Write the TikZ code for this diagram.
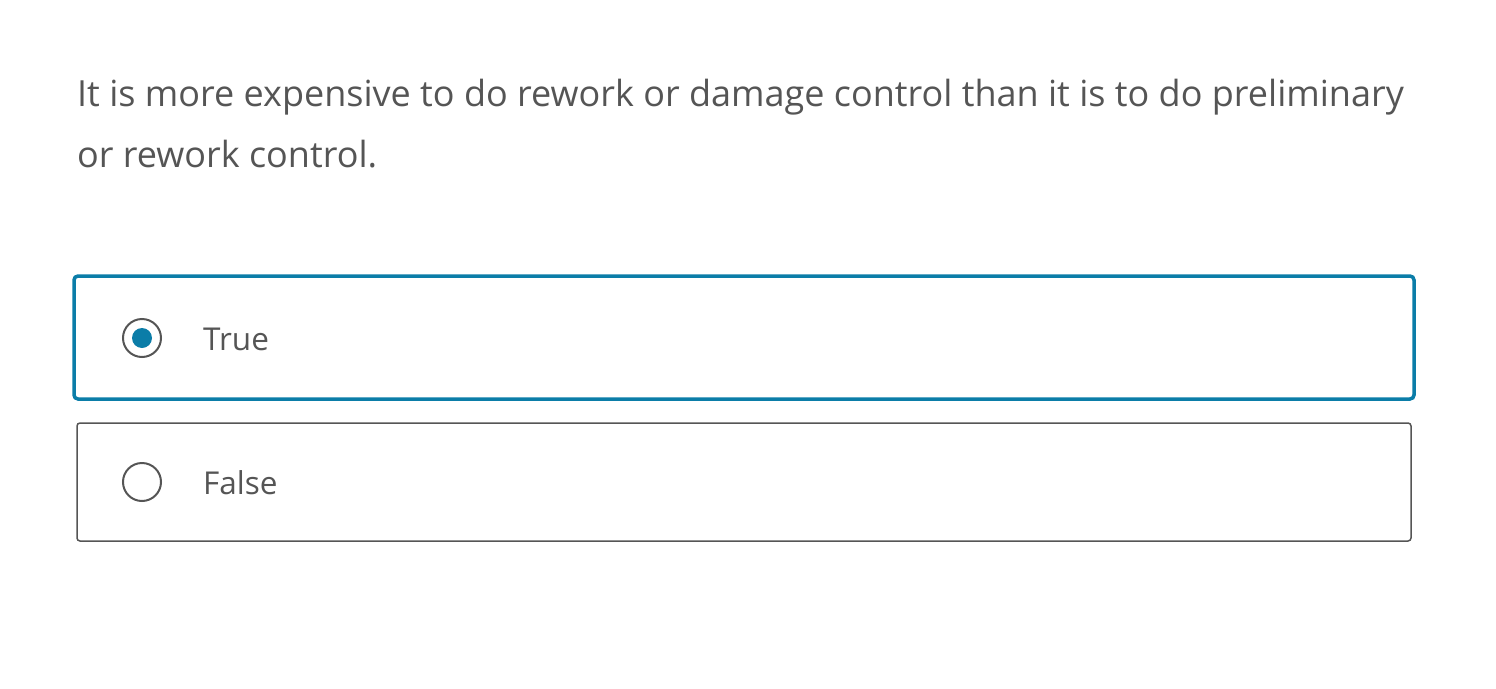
\documentclass[tikz,border=0pt]{standalone}
\usepackage{fontspec}
\setmainfont{Open Sans}
\definecolor{txt}{HTML}{555555}
\definecolor{teal}{HTML}{0B7DA8}
\begin{document}
\begin{tikzpicture}[x=1pt,y=-1pt,
  q/.style={anchor=base west,inner sep=0pt,text=txt,font=\fontsize{36}{42}\selectfont},
  opt/.style={anchor=west,inner sep=0pt,text=txt,font=\fontsize{31.5}{36}\selectfont},
  radio/.style={circle,draw=txt,line width=2pt,minimum size=38pt,inner sep=0pt}]
\useasboundingbox (0,0) rectangle (1496,688);
\node[q] (l1) at (77,106) {It is more expensive to do rework or damage control than it is to do preliminary};
\node[q] (l2) at (77,167) {or rework control.};
\draw[teal,line width=3.5pt,rounded corners=4pt] (74,276) rectangle (1414,399);
\draw[txt,line width=1.5pt,rounded corners=3pt] (77,423) rectangle (1411,541);
\node[radio] (r1) at (142,338) {};
\fill[teal] (r1.center) circle (10);
\node[radio] (r2) at (142,482) {};
\node[opt] (t1) at (203,339) {True};
\node[opt] (t2) at (203,483) {False};
\end{tikzpicture}
\end{document}
